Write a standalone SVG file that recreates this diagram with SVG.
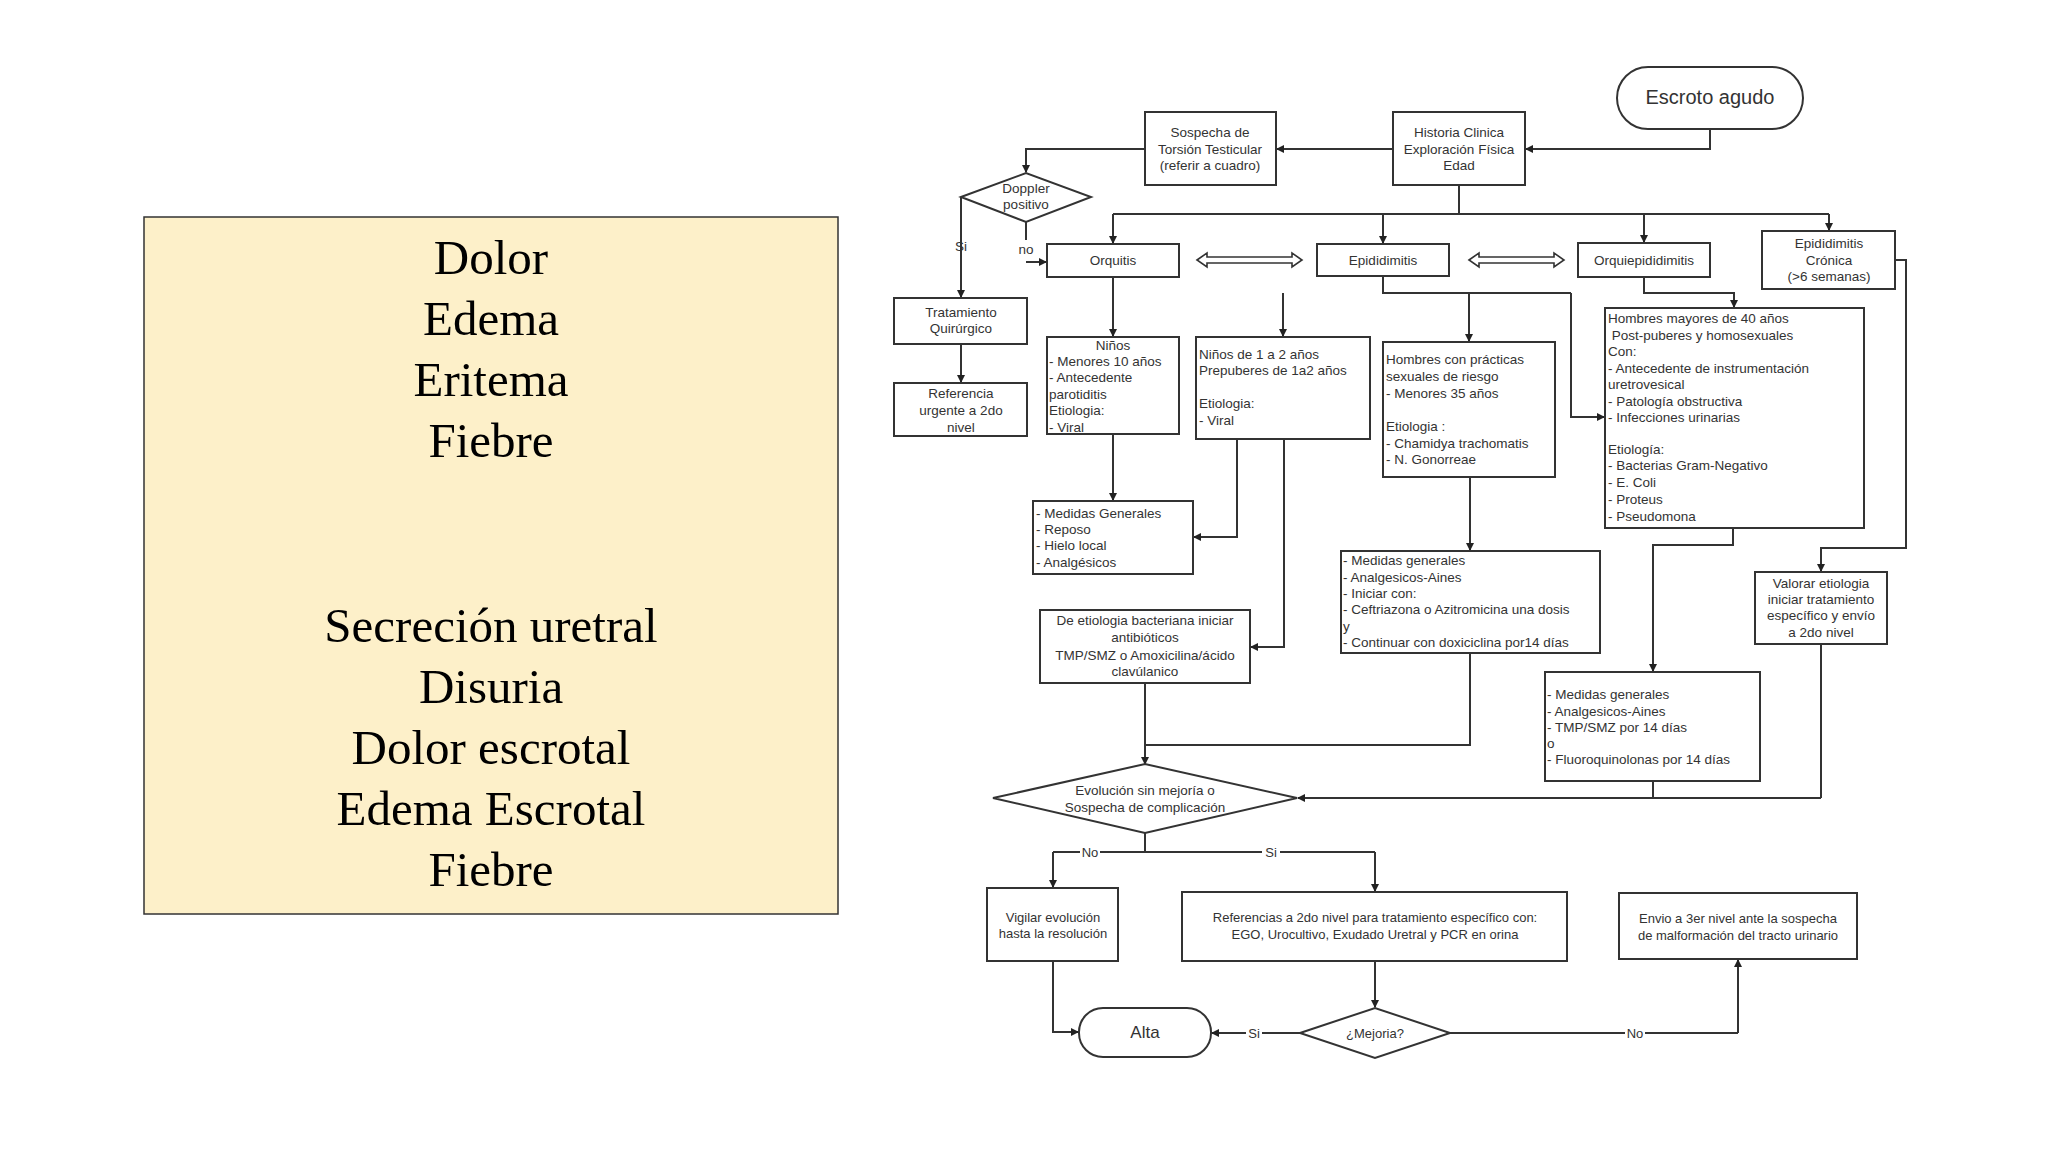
<svg xmlns="http://www.w3.org/2000/svg" width="2048" height="1152" viewBox="0 0 2048 1152">
<defs>
<marker id="ah" markerWidth="8" markerHeight="8" refX="7" refY="4" orient="auto" markerUnits="userSpaceOnUse"><path d="M0,0 L8,4 L0,8 z" fill="#222"/></marker>
<style>
.b{fill:#fff;stroke:#333;stroke-width:2}
.t{font-family:"Liberation Sans",Arial,sans-serif;font-size:13.5px;fill:#333}
.s{font-size:13px}
.c{text-anchor:middle}
.l{fill:none;stroke:#333;stroke-width:2}
.d{fill:#fff;stroke:#333;stroke-width:1.6}
.a{fill:none;stroke:#333;stroke-width:2;marker-end:url(#ah)}
.big{font-family:"Liberation Serif","Times New Roman",serif;font-size:49px;fill:#000;text-anchor:middle}
</style>
</defs>
<rect width="2048" height="1152" fill="#fff"/>
<g id="sintomas">
<rect x="144" y="217" width="694" height="697" fill="#fdf0c9" stroke="#333" stroke-width="1.5"/>
<text class="big" x="491" y="274">Dolor</text>
<text class="big" x="491" y="335">Edema</text>
<text class="big" x="491" y="396">Eritema</text>
<text class="big" x="491" y="457">Fiebre</text>
<text class="big" x="491" y="642">Secreción uretral</text>
<text class="big" x="491" y="703">Disuria</text>
<text class="big" x="491" y="764">Dolor escrotal</text>
<text class="big" x="491" y="825">Edema Escrotal</text>
<text class="big" x="491" y="886">Fiebre</text>
</g>
<g id="connectors">
<path class="a" d="M1710,129 V149 H1526"/>
<path class="a" d="M1393,149 H1277"/>
<path class="a" d="M1145,149 H1026 V172"/>
<path class="l" d="M1459,185 V214"/>
<path class="l" d="M1113,214 H1829"/>
<path class="a" d="M1113,214 V243"/>
<path class="a" d="M1383,214 V243"/>
<path class="a" d="M1644,214 V242"/>
<path class="a" d="M1829,214 V230"/>
<path class="a" d="M961,197 V297"/>
<path class="a" d="M961,344 V382"/>
<path class="l" d="M1026,222 V240"/>
<path class="a" d="M1026,262 H1046"/>
<path class="d" d="M1197,260 L1207,253 V257 H1292 V253 L1302,260 L1292,267 V263 H1207 V267 Z"/>
<path class="d" d="M1469,260 L1479,253 V257 H1554 V253 L1564,260 L1554,267 V263 H1479 V267 Z"/>
<path class="a" d="M1113,277 V336"/>
<path class="l" d="M1383,276 V293 H1571"/>
<path class="a" d="M1283,293 V336"/>
<path class="a" d="M1469,293 V341"/>
<path class="a" d="M1571,293 V417 H1604"/>
<path class="a" d="M1644,277 V293 H1734 V307"/>
<path class="a" d="M1895,260 H1906 V548 H1821 V571"/>
<path class="a" d="M1113,434 V500"/>
<path class="a" d="M1237,439 V537 H1194"/>
<path class="a" d="M1284,439 V647 H1251"/>
<path class="a" d="M1470,477 V550"/>
<path class="l" d="M1470,653 V745 H1145"/>
<path class="a" d="M1145,683 V764"/>
<path class="a" d="M1733,528 V545 H1653 V671"/>
<path class="l" d="M1653,781 V798 M1821,644 V798"/>
<path class="a" d="M1821,798 H1298"/>
<path class="l" d="M1145,833 V852 M1053,852 H1080 M1100,852 H1262 M1280,852 H1375"/>
<path class="a" d="M1053,852 V887"/>
<path class="a" d="M1375,852 V891"/>
<path class="a" d="M1053,961 V1032 H1078"/>
<path class="a" d="M1375,961 V1007"/>
<path class="l" d="M1300,1033 H1262"/>
<path class="a" d="M1246,1033 H1212"/>
<path class="l" d="M1450,1033 H1625 M1645,1033 H1738"/>
<path class="a" d="M1738,1033 V960"/>
<text class="t c" x="961" y="251">Si</text>
<text class="t c" x="1026" y="254">no</text>
<text class="t s c" x="1090" y="857">No</text>
<text class="t s c" x="1271" y="857">Si</text>
<text class="t s c" x="1254" y="1038">Si</text>
<text class="t s c" x="1635" y="1038">No</text>
</g>
<g id="escroto"><rect class="b" x="1617" y="67" width="186" height="62" rx="31"/><text class="t c" x="1710" y="104" style="font-size:20px">Escroto agudo</text></g>
<g id="historia"><rect class="b" x="1393" y="112" width="132" height="73"/><text class="t c"><tspan x="1459" y="137">Historia Clinica</tspan><tspan x="1459" y="154">Exploración Física</tspan><tspan x="1459" y="170">Edad</tspan></text></g>
<g id="sospecha"><rect class="b" x="1145" y="112" width="131" height="73"/><text class="t c"><tspan x="1210" y="137">Sospecha de</tspan><tspan x="1210" y="154">Torsión Testicular</tspan><tspan x="1210" y="170">(referir a cuadro)</tspan></text></g>
<g id="doppler"><path class="b" d="M961,197 L1026,173 L1091,197 L1026,222 Z"/><text class="t c"><tspan x="1026" y="193">Doppler</tspan><tspan x="1026" y="209">positivo</tspan></text></g>
<g id="tratamiento"><rect class="b" x="894" y="298" width="133" height="46"/><text class="t c"><tspan x="961" y="317">Tratamiento</tspan><tspan x="961" y="333">Quirúrgico</tspan></text></g>
<g id="referencia"><rect class="b" x="894" y="383" width="133" height="53"/><text class="t c"><tspan x="961" y="398">Referencia</tspan><tspan x="961" y="415">urgente a 2do</tspan><tspan x="961" y="432">nivel</tspan></text></g>
<g id="orquitis"><rect class="b" x="1047" y="244" width="132" height="33"/><text class="t c" x="1113" y="265">Orquitis</text></g>
<g id="epididimitis"><rect class="b" x="1317" y="244" width="132" height="32"/><text class="t c" x="1383" y="265">Epididimitis</text></g>
<g id="orquiepididimitis"><rect class="b" x="1578" y="243" width="132" height="34"/><text class="t c" x="1644" y="265">Orquiepididimitis</text></g>
<g id="cronica"><rect class="b" x="1762" y="231" width="133" height="58"/><text class="t c"><tspan x="1829" y="248">Epididimitis</tspan><tspan x="1829" y="265">Crónica</tspan><tspan x="1829" y="281">(&gt;6 semanas)</tspan></text></g>
<g id="ninos"><rect class="b" x="1047" y="337" width="132" height="97"/><text class="t"><tspan x="1113" y="350" text-anchor="middle">Niños</tspan><tspan x="1049" y="366">- Menores 10 años</tspan><tspan x="1049" y="382">- Antecedente</tspan><tspan x="1049" y="399">parotiditis</tspan><tspan x="1049" y="415">Etiologia:</tspan><tspan x="1049" y="432">-  Viral</tspan></text></g>
<g id="ninos12"><rect class="b" x="1196" y="337" width="174" height="102"/><text class="t"><tspan x="1199" y="359">Niños de 1 a 2 años</tspan><tspan x="1199" y="375">Prepuberes de 1a2 años</tspan><tspan x="1199" y="408">Etiologia:</tspan><tspan x="1199" y="425">- Viral</tspan></text></g>
<g id="hombres35"><rect class="b" x="1383" y="342" width="172" height="135"/><text class="t"><tspan x="1386" y="364">Hombres con prácticas</tspan><tspan x="1386" y="381">sexuales de riesgo</tspan><tspan x="1386" y="398">- Menores 35 años</tspan><tspan x="1386" y="431">Etiologia :</tspan><tspan x="1386" y="448">- Chamidya trachomatis</tspan><tspan x="1386" y="464">- N. Gonorreae</tspan></text></g>
<g id="hombres40"><rect class="b" x="1605" y="308" width="259" height="220"/><text class="t"><tspan x="1608" y="323">Hombres mayores de 40 años</tspan><tspan x="1608" y="340"> Post-puberes y homosexuales</tspan><tspan x="1608" y="356">Con:</tspan><tspan x="1608" y="373">- Antecedente de instrumentación</tspan><tspan x="1608" y="389">uretrovesical</tspan><tspan x="1608" y="406">- Patología obstructiva</tspan><tspan x="1608" y="422">- Infecciones urinarias</tspan><tspan x="1608" y="454">Etiología:</tspan><tspan x="1608" y="470">-  Bacterias Gram-Negativo</tspan><tspan x="1608" y="487">- E. Coli</tspan><tspan x="1608" y="504">- Proteus</tspan><tspan x="1608" y="521">- Pseudomona</tspan></text></g>
<g id="medidas1"><rect class="b" x="1033" y="501" width="160" height="73"/><text class="t"><tspan x="1036" y="518">- Medidas Generales</tspan><tspan x="1036" y="534">- Reposo</tspan><tspan x="1036" y="550">- Hielo local</tspan><tspan x="1036" y="567">- Analgésicos</tspan></text></g>
<g id="bacteriana"><rect class="b" x="1040" y="610" width="210" height="73"/><text class="t c"><tspan x="1145" y="625">De etiologia bacteriana iniciar</tspan><tspan x="1145" y="642">antibióticos</tspan><tspan x="1145" y="660">TMP/SMZ o Amoxicilina/ácido</tspan><tspan x="1145" y="676">clavúlanico</tspan></text></g>
<g id="medidas2"><rect class="b" x="1341" y="551" width="259" height="102"/><text class="t"><tspan x="1343" y="565">- Medidas generales</tspan><tspan x="1343" y="582">- Analgesicos-Aines</tspan><tspan x="1343" y="598">- Iniciar con:</tspan><tspan x="1343" y="614">- Ceftriazona o Azitromicina una dosis</tspan><tspan x="1343" y="631">y</tspan><tspan x="1343" y="647">- Continuar con doxiciclina por14 días</tspan></text></g>
<g id="medidas3"><rect class="b" x="1545" y="672" width="215" height="109"/><text class="t"><tspan x="1547" y="699">- Medidas generales</tspan><tspan x="1547" y="716">- Analgesicos-Aines</tspan><tspan x="1547" y="732">- TMP/SMZ por 14 días</tspan><tspan x="1547" y="748">o</tspan><tspan x="1547" y="764">- Fluoroquinolonas por 14 días</tspan></text></g>
<g id="valorar"><rect class="b" x="1755" y="572" width="132" height="72"/><text class="t c"><tspan x="1821" y="588">Valorar etiologia</tspan><tspan x="1821" y="604">iniciar tratamiento</tspan><tspan x="1821" y="620">específico y envío</tspan><tspan x="1821" y="637">a 2do nivel</tspan></text></g>
<g id="evolucion"><path class="b" d="M993,798 L1145,764 L1297,798 L1145,833 Z"/><text class="t c"><tspan x="1145" y="795">Evolución sin mejoría o</tspan><tspan x="1145" y="812">Sospecha de  complicación</tspan></text></g>
<g id="vigilar"><rect class="b" x="987" y="888" width="131" height="73"/><text class="t s c"><tspan x="1053" y="922">Vigilar evolución</tspan><tspan x="1053" y="938">hasta la resolución</tspan></text></g>
<g id="referencias2"><rect class="b" x="1182" y="892" width="385" height="69"/><text class="t s c"><tspan x="1375" y="922">Referencias a 2do nivel para tratamiento específico con:</tspan><tspan x="1375" y="939">EGO, Urocultivo, Exudado Uretral y PCR en orina</tspan></text></g>
<g id="envio"><rect class="b" x="1619" y="893" width="238" height="66"/><text class="t s c"><tspan x="1738" y="923">Envio a 3er nivel ante la sospecha</tspan><tspan x="1738" y="940">de malformación del tracto urinario</tspan></text></g>
<g id="alta"><rect class="b" x="1079" y="1008" width="132" height="49" rx="24"/><text class="t c" x="1145" y="1038" style="font-size:17px">Alta</text></g>
<g id="mejoria"><path class="b" d="M1300,1033 L1375,1008 L1450,1033 L1375,1058 Z"/><text class="t s c" x="1375" y="1038">¿Mejoria?</text></g>
</svg>
